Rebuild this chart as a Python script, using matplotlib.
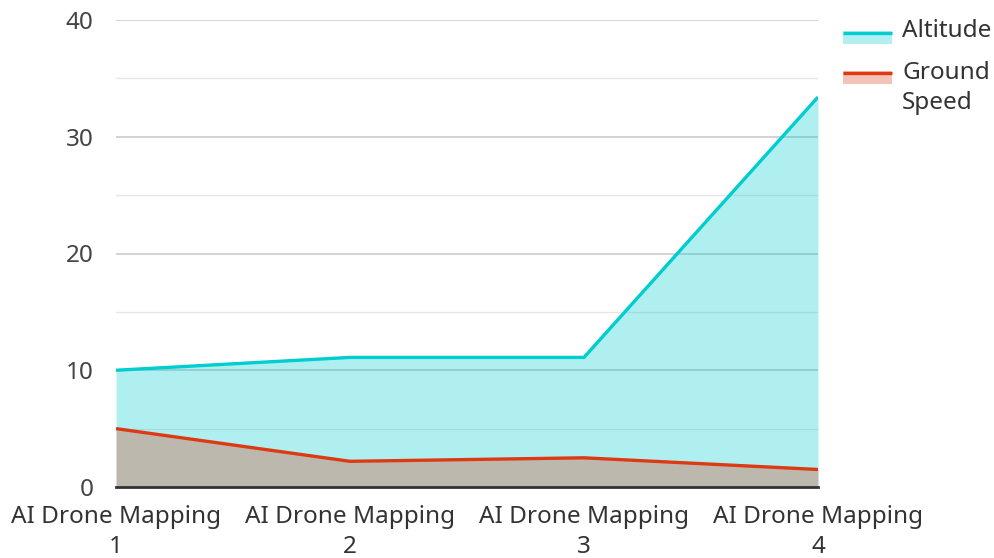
import matplotlib
matplotlib.use('Agg')
import matplotlib.pyplot as plt
from matplotlib.patches import Rectangle
from matplotlib.lines import Line2D
from matplotlib.ticker import MultipleLocator

plt.rcParams['font.family'] = ['Noto Sans', 'DejaVu Sans']

# データ
categories = ['AI Drone Mapping\n1', 'AI Drone Mapping\n2', 'AI Drone Mapping\n3', 'AI Drone Mapping\n4']
altitude = [10.0, 11.1, 11.1, 33.4]
ground_speed = [5.0, 2.2, 2.5, 1.5]

ALT_C = '#00cdcf'
GS_C = '#dd3a14'
FS = 17.5

W, H = 994, 558
fig = plt.figure(figsize=(W / 100, H / 100), dpi=100)
ax = fig.add_axes([116 / W, 1 - 487 / H, (818 - 116) / W, (487 - 20) / H])

x = list(range(len(categories)))
# 塗りはグリッドの上に半透明で重ねる
ax.fill_between(x, altitude, color=ALT_C, alpha=0.31, lw=0, zorder=3)
ax.fill_between(x, ground_speed, color=GS_C, alpha=0.3, lw=0, zorder=3)
ax.plot(x, altitude, color=ALT_C, lw=2.4, zorder=4, solid_capstyle='butt')
ax.plot(x, ground_speed, color=GS_C, lw=2.4, zorder=4, solid_capstyle='butt')

ax.set_xlim(0, 3)
ax.set_ylim(0, 40)
ax.yaxis.set_major_locator(MultipleLocator(10))
ax.yaxis.set_minor_locator(MultipleLocator(5))
ax.grid(axis='y', which='major', color='#cccccc', lw=1.2, zorder=1)
ax.grid(axis='y', which='minor', color='#e6e6e6', lw=1.0, zorder=1)
for s in ['top', 'right', 'left']:
    ax.spines[s].set_visible(False)
ax.spines['bottom'].set_color('#333333')
ax.spines['bottom'].set_linewidth(2)
ax.spines['bottom'].set_zorder(5)

ax.set_xticks(x)
ax.set_xticklabels(categories, fontsize=FS, color='#333333', linespacing=1.35)
ax.tick_params(axis='both', which='both', length=0)
ax.tick_params(axis='x', pad=13)
ax.tick_params(axis='y', pad=16, labelsize=FS, labelcolor='#444444')

# 凡例 (線 + 塗りの見本を手で描く)
def fx(px): return px / W
def fy(py): return 1 - py / H

for top, c, label, ty in [(31, ALT_C, 'Altitude', 31), (71, GS_C, 'Ground\nSpeed', 88)]:
    fig.add_artist(Rectangle((fx(843), fy(top + 13)), fx(892) - fx(843), fy(top) - fy(top + 13),
                             transform=fig.transFigure, facecolor=c, alpha=0.3, lw=0))
    fig.add_artist(Line2D([fx(843), fx(892)], [fy(top + 1.5)] * 2, transform=fig.transFigure,
                          color=c, lw=2.4, solid_capstyle='butt'))
    fig.text(fx(902), fy(ty), label, fontsize=FS, color='#333333', va='center',
             ha='left', linespacing=1.35)

fig.savefig('out.png', dpi=100)
